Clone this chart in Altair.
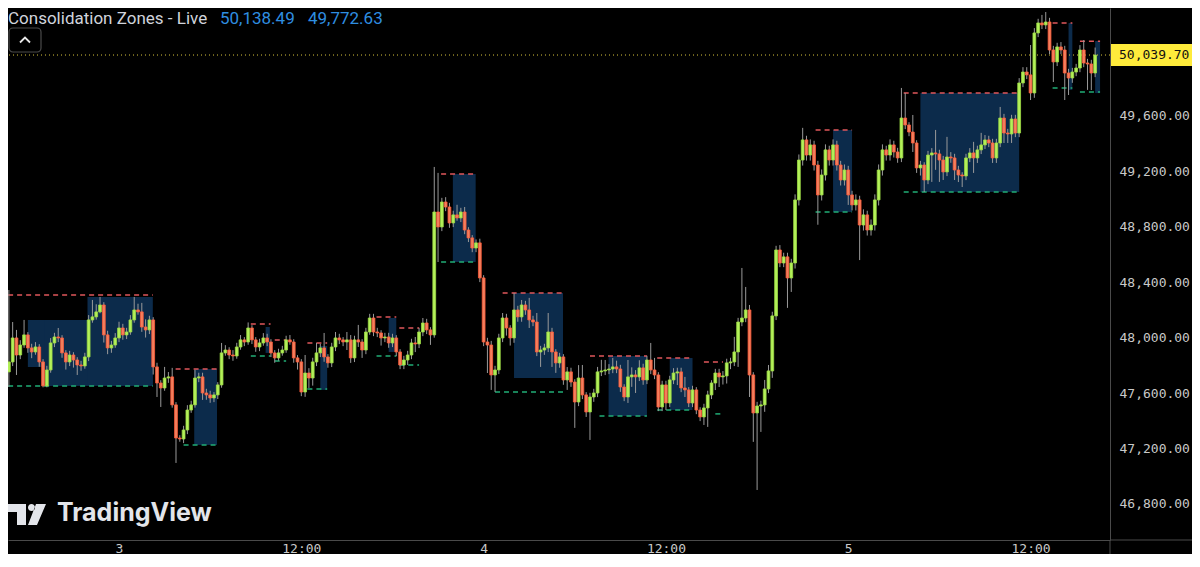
import altair as alt
import pandas as pd

# ---------------- data ----------------
start_time = "2021-10-02T16:30:00Z"      # time of the first 15-minute candle
bar_minutes = 15
first_open = 47680

closes = [
    47753, 47825, 47998, 47875, 47947, 48020, 47926, 47897, 47933, 47825,
    47652, 47767, 47962, 48005, 47998, 47890, 47825, 47875, 47839, 47803,
    47796, 47861, 48128, 48150, 48186, 48236, 48020, 47926, 47947, 47998,
    48070, 48020, 48041, 48128, 48200, 48186, 48077, 48056, 48128, 47789,
    47673, 47637, 47709, 47717, 47515, 47276, 47269, 47334, 47478, 47515,
    47709, 47717, 47601, 47587, 47565, 47587, 47659, 47890, 47911, 47875,
    47868, 47933, 47984, 47969, 48070, 47984, 47933, 47962, 47998, 47969,
    47890, 47854, 47890, 47911, 47984, 47969, 47854, 47825, 47608, 47745,
    47709, 47825, 47890, 47926, 47861, 47818, 47933, 47998, 47984, 47969,
    47984, 47854, 47984, 47969, 47911, 48041, 48142, 48041, 48034, 47998,
    48005, 47962, 47998, 47897, 47803, 47839, 47875, 47962, 47955, 48041,
    48106, 48056, 48020, 48907, 48799, 48979, 48943, 48828, 48886, 48864,
    48907, 48777, 48720, 48647, 48684, 48431, 47969, 47947, 47731, 47767,
    47998, 48142, 48070, 47998, 48200, 48150, 48236, 48200, 48128, 48113,
    47897, 47911, 47926, 48041, 47897, 47818, 47861, 47695, 47753, 47680,
    47536, 47709, 47587, 47464, 47572, 47601, 47753, 47760, 47767, 47774,
    47789, 47774, 47644, 47572, 47717, 47731, 47717, 47782, 47695, 47839,
    47767, 47731, 47500, 47659, 47529, 47695, 47745, 47753, 47637, 47623,
    47529, 47623, 47478, 47428, 47493, 47587, 47673, 47745, 47717, 47724,
    47818, 47825, 47897, 48113, 48142, 48200, 47731, 47457, 47507, 47515,
    47630, 47760, 48157, 48633, 48539, 48583, 48431, 48539, 48994, 49282,
    49427, 49318, 49391, 49246, 49030, 49174, 49355, 49282, 49391, 49246,
    49138, 49210, 49030, 48958, 48994, 48813, 48886, 48777, 48813, 48994,
    49210, 49355, 49318, 49391, 49340, 49297, 49585, 49535, 49484, 49405,
    49225, 49246, 49138, 49318, 49333, 49326, 49282, 49196, 49304, 49297,
    49210, 49174, 49167, 49297, 49333, 49297, 49355, 49391, 49427, 49405,
    49297, 49405, 49585, 49477, 49470, 49578, 49477, 49838, 49917, 49896,
    49766, 50199, 50271, 50257, 50278, 50076, 49990, 50098, 50076, 49910,
    49874, 49917, 49946, 50076, 49982, 49975, 49910, 50039.70,
]

upper_wick = [
    40, 519, 115, 58, 35, 108, 20, 30, 35, 20,
    20, 30, 35, 30, 65, 20, 20, 30, 20, 20,
    30, 30, 35, 122, 55, 58, 20, 30, 30, 35,
    45, 30, 30, 35, 94, 45, 65, 55, 30, 20,
    30, 20, 80, 35, 65, 20, 20, 30, 35, 30,
    58, 30, 30, 30, 30, 20, 20, 72, 35, 20,
    35, 30, 35, 20, 40, 20, 20, 30, 35, 30,
    20, 20, 30, 30, 30, 35, 20, 20, 20, 130,
    35, 30, 72, 30, 108, 20, 30, 43, 30, 20,
    57, 35, 30, 108, 20, 30, 30, 30, 30, 20,
    30, 30, 30, 20, 20, 30, 30, 30, 43, 30,
    36, 30, 20, 325, 282, 30, 35, 30, 30, 73,
    30, 36, 20, 20, 25, 30, 20, 30, 30, 30,
    30, 36, 30, 20, 123, 30, 36, 30, 87, 30,
    65, 30, 30, 137, 30, 20, 30, 20, 35, 30,
    20, 93, 94, 20, 30, 30, 36, 80, 72, 35,
    65, 45, 30, 20, 122, 55, 35, 55, 30, 30,
    123, 87, 20, 30, 30, 30, 35, 30, 30, 80,
    20, 30, 20, 20, 30, 30, 20, 30, 30, 35,
    30, 30, 109, 30, 361, 166, 36, 20, 30, 30,
    65, 43, 30, 30, 35, 30, 30, 30, 40, 40,
    87, 30, 40, 30, 30, 40, 40, 30, 40, 30,
    30, 40, 30, 30, 40, 30, 40, 30, 40, 40,
    40, 40, 30, 40, 30, 30, 217, 181, 20, 123,
    20, 30, 20, 30, 35, 166, 30, 30, 145, 35,
    30, 30, 20, 30, 35, 80, 30, 87, 35, 30,
    30, 30, 80, 30, 30, 30, 30, 35, 35, 35,
    216, 35, 30, 58, 72, 30, 30, 30, 35, 30,
    30, 30, 30, 35, 72, 30, 30, 54,
]

lower_wick = [
    35, 109, 30, 144, 30, 20, 35, 45, 20, 35,
    10, 10, 20, 30, 30, 35, 55, 30, 55, 72,
    35, 20, 30, 20, 20, 10, 55, 45, 35, 20,
    30, 35, 30, 20, 20, 20, 35, 55, 30, 55,
    101, 137, 20, 35, 20, 180, 20, 30, 30, 20,
    20, 30, 50, 35, 35, 30, 30, 20, 20, 30,
    35, 20, 20, 30, 20, 30, 35, 30, 20, 30,
    30, 35, 20, 20, 20, 20, 35, 55, 30, 35,
    72, 55, 30, 30, 35, 35, 30, 30, 30, 30,
    58, 36, 30, 36, 57, 30, 20, 30, 30, 55,
    30, 35, 30, 30, 30, 30, 36, 30, 59, 30,
    30, 30, 72, 20, 253, 30, 30, 35, 30, 20,
    30, 30, 30, 30, 30, 30, 30, 202, 108, 123,
    30, 30, 55, 55, 35, 35, 35, 35, 58, 30,
    30, 108, 35, 30, 108, 72, 35, 35, 72, 35,
    187, 30, 30, 36, 202, 35, 30, 30, 30, 30,
    30, 30, 35, 30, 43, 72, 116, 30, 35, 30,
    30, 30, 30, 30, 51, 30, 30, 87, 30, 51,
    30, 30, 30, 30, 58, 137, 30, 51, 73, 55,
    55, 45, 30, 108, 30, 30, 159, 209, 556, 187,
    50, 30, 50, 30, 30, 30, 216, 101, 40, 40,
    40, 40, 40, 40, 215, 40, 40, 40, 40, 40,
    40, 40, 72, 40, 40, 253, 40, 40, 40, 40,
    40, 40, 40, 40, 40, 35, 30, 30, 30, 65,
    36, 55, 87, 30, 194, 115, 158, 58, 30, 35,
    72, 51, 80, 30, 30, 108, 36, 30, 30, 30,
    36, 36, 30, 72, 65, 65, 30, 30, 30, 30,
    51, 35, 30, 30, 30, 30, 145, 30, 30, 195,
    123, 35, 30, 30, 30, 187, 123, 30,
]

# consolidation zones: dashed high / low levels (in candle numbers)
zone_hi_start = [0.8, 44.9, 64.7, 71, 79.6, 97.8, 103.8, 114.8, 131, 154, 171.7, 184, 213.4, 236.6, 275.8, 283]
zone_lo_start = [0.8, 47, 64.7, 71, 79.6, 97.8, 103.8, 114.8, 129, 156.5, 171.7, 187, 213.4, 236.6, 275.8, 283]
zone_end = [38.9, 55.8, 69.9, 74, 84.8, 103, 109, 123.9, 146.9, 169, 181, 189, 223, 267, 281, 288.3]
zone_hi = [48308, 47774, 48099, 47984, 47962, 48150, 48070, 49181, 48323, 47868, 47854, 47825, 49499, 49766, 50271, 50138.49]
zone_lo = [47652, 47226, 47868, 47832, 47630, 47868, 47803, 48546, 47608, 47435, 47478, 47450, 48907, 49052, 49802, 49772.63]

# shaded zone boxes
box_start = [6, 10.4, 21.7, 49.8, 68.6, 83, 101, 117.9, 134, 158.9, 175, 218, 241, 280, 287]
box_end = [38.9, 38.9, 38.9, 55.8, 69.7, 84.8, 103, 123.9, 146.9, 169, 181, 223, 267, 281, 288.3]
box_top = [48128, 48128, 48294, 47774, 48077, 47940, 48142, 49181, 48323, 47868, 47854, 49499, 49766, 50271, 50141]
box_bot = [47789, 47652, 47652, 47226, 47890, 47623, 47897, 48546, 47709, 47435, 47478, 48907, 49052, 49788, 49765]

x_tick_times = ["2021-10-03T00:00:00Z", "2021-10-03T12:00:00Z", "2021-10-04T00:00:00Z",
                "2021-10-04T12:00:00Z", "2021-10-05T00:00:00Z", "2021-10-05T12:00:00Z"]
x_tick_labels = ["3", "12:00", "4", "12:00", "5", "12:00"]
y_ticks = [46800, 47200, 47600, 48000, 48400, 48800, 49200, 49600, 50400]
x_domain_times = ["2021-10-02T17:01:18Z", "2021-10-05T16:54:00Z"]
y_domain = [46540, 50379]

title_text = "Consolidation Zones - Live"

# ---------------- build tables ----------------
assert len(closes) == len(upper_wick) == len(lower_wick), (len(closes), len(upper_wick), len(lower_wick))


def ms(s):
    return int(pd.Timestamp(s).value // 10**6)


t0 = ms(start_time)
step = bar_minutes * 60 * 1000


def tm(i):
    return t0 + i * step


opens = [first_open] + closes[:-1]
candles = pd.DataFrame({
    "t": [tm(i) for i in range(len(closes))],
    "open": opens,
    "close": closes,
    "high": [max(o, c) + u for o, c, u in zip(opens, closes, upper_wick)],
    "low": [min(o, c) - l for o, c, l in zip(opens, closes, lower_wick)],
})

lines = pd.DataFrame(
    [{"s": tm(a), "e": tm(e), "p": p, "kind": "hi"} for a, e, p in zip(zone_hi_start, zone_end, zone_hi)]
    + [{"s": tm(a), "e": tm(e), "p": p, "kind": "lo"} for a, e, p in zip(zone_lo_start, zone_end, zone_lo)]
)
boxes = pd.DataFrame({
    "s": [tm(v) for v in box_start], "e": [tm(v) for v in box_end],
    "top": box_top, "bot": box_bot,
})
last = pd.DataFrame({"p": [closes[-1]]})

tick_ms = [ms(s) for s in x_tick_times]
label_expr = " : ".join(f"time(datum.value) == {v} ? '{lab}'" for v, lab in zip(tick_ms, x_tick_labels)) + " : ''"

xscale = alt.Scale(type="utc", domain=[ms(s) for s in x_domain_times])
yscale = alt.Scale(domain=y_domain, nice=False, zero=False)

AX_COL = "#4a4a4a"
LBL_COL = "#c9c9c9"
AX_FONT = "DejaVu Sans Mono"
UP_FILL, UP_STROKE = "#b4f15a", "#9ddc45"
DN_FILL, DN_STROKE = "#f3805e", "#ff5a3a"

x_axis = alt.Axis(values=tick_ms, labelExpr=label_expr, title=None, ticks=False, grid=False,
                  domainColor=AX_COL, labelColor=LBL_COL, labelFontSize=13, labelPadding=2,
                  labelFont=AX_FONT, labelFlush=False, labelOverlap=False)
y_axis = alt.Axis(orient="right", values=y_ticks, format=",.2f", title=None, ticks=False, grid=False,
                  domainColor=AX_COL, labelColor=LBL_COL, labelFontSize=13, labelPadding=9,
                  labelFont=AX_FONT, labelOverlap=False, labelFlush=False)


def X(f):
    return alt.X(f, type="temporal", scale=xscale, axis=x_axis)


def Y(f):
    return alt.Y(f, type="quantitative", scale=yscale, axis=y_axis)


box_layer = alt.Chart(boxes).mark_rect(color="#0c2b4b", clip=True).encode(
    x=X("s"), x2="e", y=Y("top"), y2="bot")

line_layer = alt.Chart(lines).mark_rule(strokeDash=[5, 4], strokeWidth=1.5, clip=True).encode(
    x=X("s"), x2="e", y=Y("p"),
    color=alt.Color("kind:N", scale=alt.Scale(domain=["hi", "lo"], range=["#e0575b", "#20ad76"]), legend=None))

price_line = alt.Chart(last).mark_rule(color="#d9c53c", strokeDash=[1, 3], strokeWidth=1).encode(y=Y("p"))

wicks = alt.Chart(candles).mark_rule(color="#9a9a9a", strokeWidth=1, clip=True).encode(
    x=X("t"), y=Y("low"), y2="high")

bodies = alt.Chart(candles).mark_bar(width=2.8, strokeWidth=0.8, clip=True).encode(
    x=X("t"), y=Y("open"), y2="close",
    fill=alt.condition("datum.close >= datum.open", alt.value(UP_FILL), alt.value(DN_FILL)),
    stroke=alt.condition("datum.close >= datum.open", alt.value(UP_STROKE), alt.value(DN_STROKE)))

price_box = alt.Chart(last).mark_rect(color="#ffeb3b", yOffset=-11, y2Offset=11).encode(
    y=Y("p"), y2="p", x=alt.value(1103), x2=alt.value(1184))
price_txt = alt.Chart(last).mark_text(align="left", baseline="middle", font=AX_FONT,
                                      fontSize=13, color="#111111").encode(
    y=Y("p"), x=alt.value(1111), text=alt.Text("p:Q", format=",.2f"))

one = pd.DataFrame({"a": [0]})
hdr1 = alt.Chart(one).mark_text(text=title_text, align="left", baseline="alphabetic", font="Roboto",
                                fontSize=17, color="#d1d4dc").encode(x=alt.value(0), y=alt.value(16))
hdr2 = alt.Chart(one).mark_text(text=f"{zone_hi[-1]:,.2f}", align="left", baseline="alphabetic", font="Roboto",
                                fontSize=17, color="#2f8ee0").encode(x=alt.value(212), y=alt.value(16))
hdr3 = alt.Chart(one).mark_text(text=f"{zone_lo[-1]:,.2f}", align="left", baseline="alphabetic", font="Roboto",
                                fontSize=17, color="#2f8ee0").encode(x=alt.value(300), y=alt.value(16))
btn = alt.Chart(one).mark_rect(fill="#000000", stroke="#4a4a4a", strokeWidth=1.2, cornerRadius=4).encode(
    x=alt.value(1), x2=alt.value(33), y=alt.value(20), y2=alt.value(44))
chev = alt.Chart(one).mark_point(shape="M-5,2.5L0,-2.5L5,2.5", size=4, filled=False, stroke="#e8e8e8",
                                 strokeWidth=1.8, opacity=1).encode(x=alt.value(17), y=alt.value(32))
logo = alt.Chart(one).mark_point(
    shape="M-19,-11H-1V10H-10V-3H-19Z M1,-7.5a3.5,3.5 0 1,0 7,0a3.5,3.5 0 1,0 -7,0Z M9,-11H19L10,10H1Z",
    size=4, filled=True, fill="#e3e5ea", strokeWidth=0, opacity=1).encode(x=alt.value(19), y=alt.value(507))
logo_txt = alt.Chart(one).mark_text(text="TradingView", align="left", baseline="alphabetic", font="Inter",
                                    fontWeight=700, fontSize=25, color="#e3e5ea").encode(
    x=alt.value(49), y=alt.value(513))
ext_v = alt.Chart(one).mark_rule(color=AX_COL).encode(x=alt.value(1102), y=alt.value(532), y2=alt.value(546))
ext_h = alt.Chart(one).mark_rule(color=AX_COL).encode(x=alt.value(1102), x2=alt.value(1184), y=alt.value(532))

chart = alt.layer(
    box_layer, line_layer, price_line, wicks, bodies,
    price_box, price_txt, ext_v, ext_h, hdr1, hdr2, hdr3, btn, chev, logo, logo_txt,
).properties(
    width=1102, height=532,
    padding={"left": 0, "top": 0, "right": 82, "bottom": 14},
    autosize=alt.AutoSizeParams(type="none"),
    background="#000000",
).configure_view(stroke=None)

chart.save("out.html", embed_options={"renderer": "svg", "actions": False})
